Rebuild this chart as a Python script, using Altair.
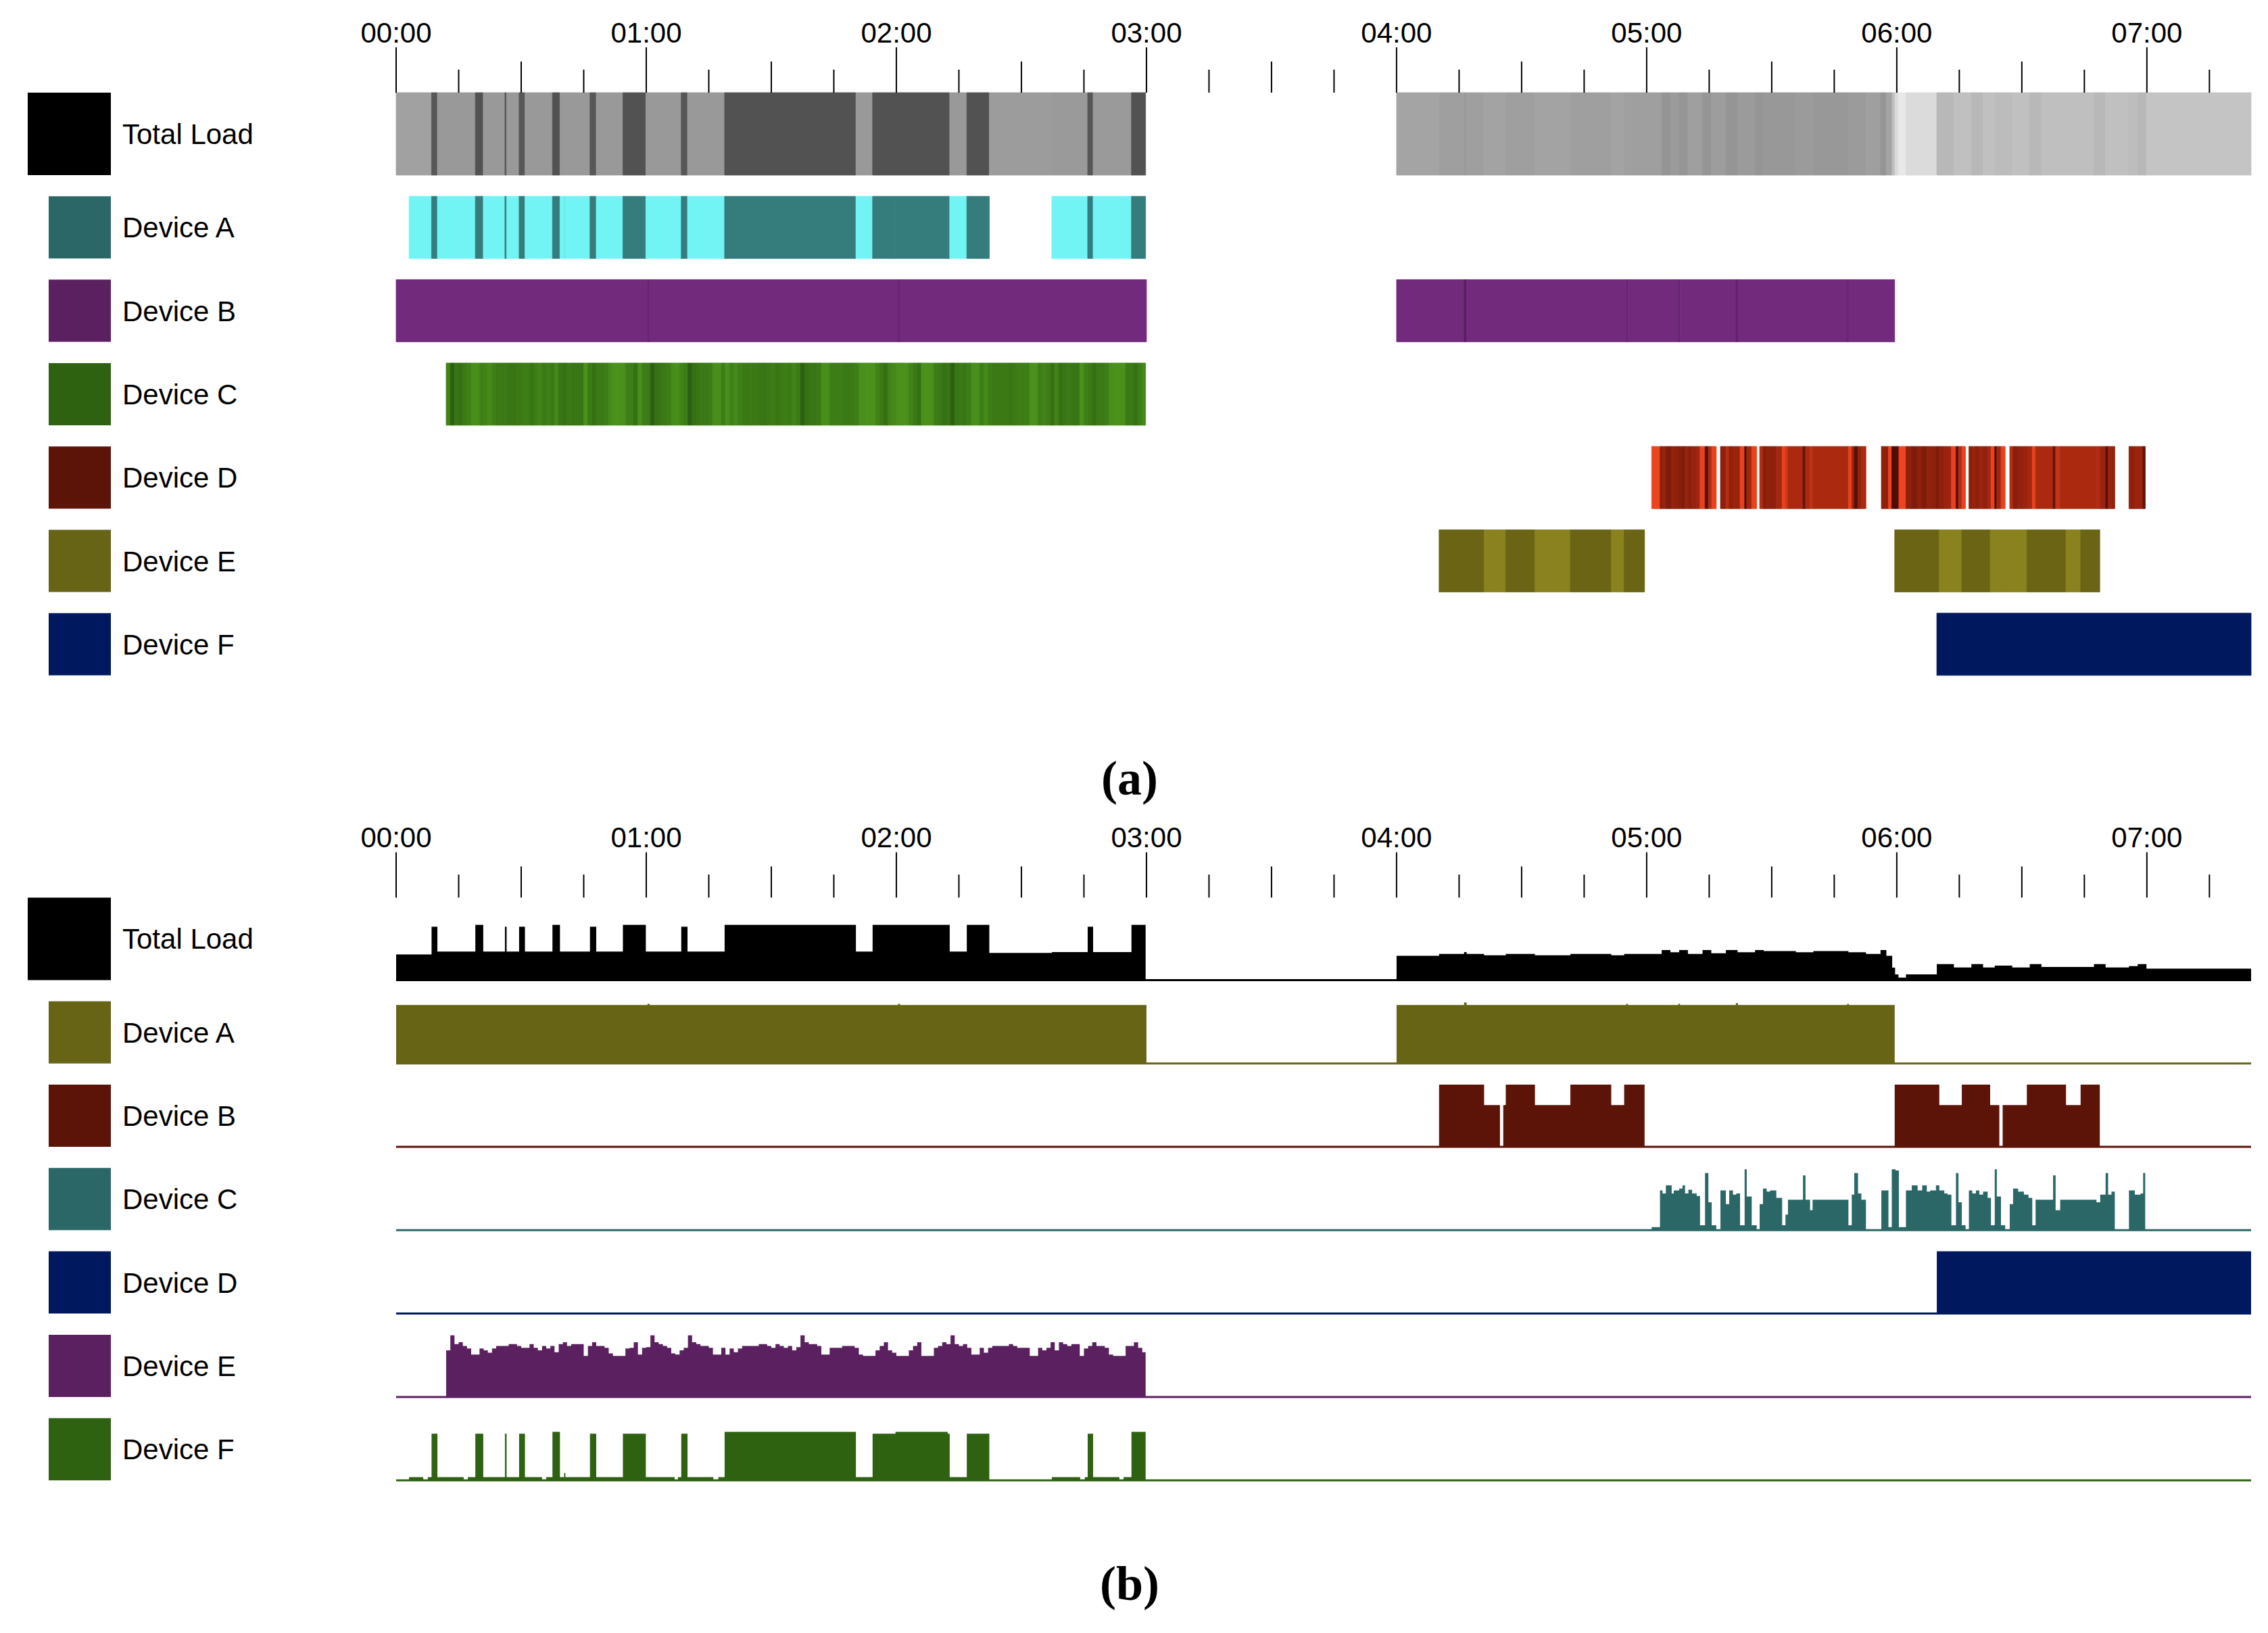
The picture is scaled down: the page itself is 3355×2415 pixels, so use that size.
import altair as alt
import pandas as pd

# ---------------- layout / style constants ----------------
FONT = "Liberation Sans"
X_MAX = 445            # 07:25 expressed in minutes
PLOT_W = 2744
TOTAL_H = 122
ROW_H = 92
ROW_GAP = 31.3
CAPTION_H = 266

# ---------------- axis ticks (minutes) and labels ----------------
HOUR_TICKS = [0, 60, 120, 180, 240, 300, 360, 420]
HOUR_LABELS = ["00:00", "01:00", "02:00", "03:00", "04:00", "05:00", "06:00", "07:00"]
HALF_HOUR_TICKS = [30, 90, 150, 210, 270, 330, 390]
QUARTER_TICKS = [15, 45, 75, 105, 135, 165, 195, 225, 255, 285, 315, 345, 375, 405, 435]

# ---------------- measured series: (start_min, end_min, level) ----------------
TOTAL_SEGMENTS = [
    (0, 8.5, 0.31), (8.5, 9.9, 0.646), (9.9, 19.0, 0.345), (19.0, 20.9, 0.67),
    (20.9, 26.1, 0.345), (26.1, 26.5, 0.646), (26.5, 29.5, 0.345), (29.5, 30.9, 0.646),
    (30.9, 37.5, 0.345), (37.5, 39.3, 0.67), (39.3, 46.5, 0.345), (46.5, 48.0, 0.646),
    (48.0, 54.4, 0.345), (54.4, 59.9, 0.67), (59.9, 68.4, 0.345), (68.4, 69.9, 0.646),
    (69.9, 78.8, 0.345), (78.8, 110.3, 0.67), (110.3, 114.3, 0.345), (114.3, 132.8, 0.67),
    (132.8, 136.9, 0.345), (136.9, 142.3, 0.67), (142.3, 157.3, 0.33), (157.3, 165.9, 0.34),
    (165.9, 167.2, 0.646), (167.2, 176.4, 0.34), (176.4, 179.8, 0.67),
    (240.0, 250.2, 0.294), (250.2, 256.2, 0.316), (256.2, 256.8, 0.34), (256.8, 261.0, 0.316),
    (261.0, 266.2, 0.30), (266.2, 273.2, 0.316), (273.2, 281.7, 0.30), (281.7, 291.5, 0.316),
    (291.5, 294.6, 0.30), (294.6, 303.6, 0.316),
    (303.6, 305.7, 0.363), (305.7, 307.8, 0.338), (307.8, 309.9, 0.363), (309.9, 313.4, 0.317),
    (313.4, 315.5, 0.363), (315.5, 319.0, 0.326), (319.0, 321.8, 0.363), (321.8, 326.0, 0.338),
    (326.0, 328.1, 0.363), (328.1, 335.8, 0.351), (335.8, 340.0, 0.338), (340.0, 348.4, 0.351),
    (348.4, 352.6, 0.338), (352.6, 356.1, 0.317), (356.1, 357.5, 0.363), (357.5, 358.9, 0.295),
    (358.9, 359.6, 0.15),
    (359.6, 360.4, 0.069), (360.4, 362.2, 0.03), (362.2, 369.6, 0.069),
    (369.6, 373.7, 0.194), (373.7, 377.9, 0.153), (377.9, 380.7, 0.194), (380.7, 383.5, 0.153),
    (383.5, 387.7, 0.175), (387.7, 391.9, 0.153), (391.9, 394.7, 0.194), (394.7, 407.3, 0.159),
    (407.3, 410.1, 0.194), (410.1, 415.7, 0.153), (415.7, 417.8, 0.169), (417.8, 419.9, 0.194),
    (419.9, 445.0, 0.138),
]

A_SEGMENTS = [
    (3.1, 6.5, 0.05), (6.5, 7.6, 0.01), (7.6, 8.5, 0.05), (8.5, 9.9, 0.75),
    (9.9, 16.2, 0.05), (16.2, 17.2, 0.01), (17.2, 19.0, 0.05), (19.0, 20.9, 0.75),
    (20.9, 26.1, 0.05), (26.1, 26.5, 0.75), (26.5, 29.5, 0.05), (29.5, 30.9, 0.75),
    (30.9, 35.0, 0.05), (35.0, 36.0, 0.01), (36.0, 37.5, 0.05), (37.5, 39.3, 0.78),
    (39.3, 40.3, 0.05), (40.3, 40.6, 0.12), (40.6, 46.5, 0.05), (46.5, 48.0, 0.75),
    (48.0, 54.4, 0.05), (54.4, 59.9, 0.75), (59.9, 66.8, 0.05), (66.8, 67.6, 0.01),
    (67.6, 68.4, 0.05), (68.4, 69.9, 0.75), (69.9, 76.1, 0.05), (76.1, 77.3, 0.01),
    (77.3, 78.8, 0.05), (78.8, 110.3, 0.78), (110.3, 114.3, 0.05), (114.3, 119.8, 0.75),
    (119.8, 132.3, 0.78), (132.3, 132.8, 0.75), (132.8, 136.9, 0.05), (136.9, 142.3, 0.75),
    (157.3, 164.1, 0.05), (164.1, 165.2, 0.01), (165.2, 165.9, 0.05), (165.9, 167.2, 0.75),
    (167.2, 173.5, 0.05), (173.5, 174.5, 0.01), (174.5, 176.4, 0.05), (176.4, 179.8, 0.78),
]

B_SEGMENTS = [
    (0, 60.3, 0.94), (60.3, 60.8, 0.96), (60.8, 120.4, 0.94), (120.4, 120.9, 0.96),
    (120.9, 180.0, 0.94),
    (240.0, 256.2, 0.94), (256.2, 256.8, 0.98), (256.8, 295.1, 0.94), (295.1, 295.5, 0.96),
    (295.5, 307.6, 0.94), (307.6, 308.0, 0.96), (308.0, 321.4, 0.94), (321.4, 321.9, 0.97),
    (321.9, 348.1, 0.94), (348.1, 348.5, 0.96), (348.5, 359.5, 0.94),
]

# Series C: one level (percent) per minute, from minute 12 to 179.8
C_START = 12
C_END = 179.8
C_LEVELS = [
    75, 99, 85, 88, 82, 78, 68, 68, 78, 75, 71, 78,
    82, 82, 82, 85, 85, 82, 79, 79, 85, 79, 75, 82,
    78, 82, 72, 85, 88, 82, 85, 85, 85, 66, 82, 88,
    82, 82, 79, 70, 66, 66, 66, 78, 79, 88, 68, 79,
    80, 99, 88, 85, 82, 79, 70, 68, 75, 79, 99, 88,
    85, 82, 82, 79, 68, 68, 79, 68, 78, 72, 78, 82,
    82, 82, 82, 85, 85, 82, 79, 85, 82, 79, 82, 75,
    80, 99, 88, 85, 85, 82, 68, 68, 79, 79, 79, 82,
    82, 82, 79, 68, 66, 66, 66, 75, 82, 88, 75, 71,
    66, 66, 66, 75, 82, 88, 66, 66, 66, 79, 82, 88,
    85, 99, 85, 82, 85, 79, 68, 68, 79, 71, 79, 82,
    82, 82, 82, 85, 82, 79, 79, 79, 66, 66, 79, 75,
    79, 88, 75, 88, 85, 82, 85, 85, 66, 78, 82, 88,
    82, 82, 79, 68, 66, 66, 66, 82, 82, 88, 79, 72,
]

D_SEGMENTS = [
    (301.2, 303.2, 0.05), (303.2, 303.8, 0.64), (303.8, 304.6, 0.59), (304.6, 306.0, 0.72),
    (306.0, 306.5, 0.59), (306.5, 307.8, 0.64), (307.8, 308.6, 0.67), (308.6, 309.2, 0.72),
    (309.2, 310.0, 0.59), (310.0, 310.9, 0.65), (310.9, 312.0, 0.59), (312.0, 312.8, 0.55),
    (312.8, 314.0, 0.08), (314.0, 314.8, 0.92), (314.8, 315.6, 0.45), (315.6, 316.7, 0.08),
    (317.7, 319.0, 0.64), (319.0, 319.8, 0.42), (319.8, 320.7, 0.64), (320.7, 321.5, 0.57),
    (321.5, 322.4, 0.59), (322.4, 323.5, 0.08), (323.5, 324.0, 0.98), (324.0, 325.2, 0.54),
    (325.2, 326.4, 0.08),
    (327.1, 327.9, 0.42), (327.9, 328.8, 0.67), (328.8, 329.6, 0.62), (329.6, 331.1, 0.64),
    (331.1, 332.5, 0.52), (332.5, 333.3, 0.08), (333.3, 333.9, 0.25), (333.9, 337.5, 0.49),
    (337.5, 338.1, 0.88), (338.1, 339.2, 0.49), (339.2, 339.8, 0.32), (339.8, 348.4, 0.49),
    (348.4, 349.2, 0.08), (349.2, 349.8, 0.57), (349.8, 350.7, 0.92), (350.7, 351.5, 0.59),
    (351.5, 352.6, 0.49),
    (356.3, 358.0, 0.64), (358.0, 358.8, 0.05), (358.8, 359.7, 0.98), (359.7, 360.5, 0.96),
    (360.5, 362.2, 0.05), (362.2, 363.6, 0.64), (363.6, 365.0, 0.72), (365.0, 366.1, 0.64),
    (366.1, 367.2, 0.72), (367.2, 368.0, 0.62), (368.0, 369.4, 0.64), (369.4, 370.2, 0.72),
    (370.2, 371.4, 0.64), (371.4, 372.2, 0.59), (372.2, 373.1, 0.57), (373.1, 374.2, 0.08),
    (374.2, 374.8, 0.92), (374.8, 375.6, 0.45), (375.6, 376.5, 0.08),
    (377.3, 378.1, 0.64), (378.1, 379.0, 0.59), (379.0, 379.8, 0.64), (379.8, 380.7, 0.57),
    (380.7, 381.8, 0.62), (381.8, 382.6, 0.52), (382.6, 383.5, 0.08), (383.5, 384.0, 0.98),
    (384.0, 385.0, 0.54), (385.0, 386.0, 0.08),
    (387.1, 387.9, 0.42), (387.9, 389.1, 0.67), (389.1, 390.5, 0.62), (390.5, 391.6, 0.57),
    (391.6, 392.5, 0.52), (392.5, 393.3, 0.08), (393.3, 397.5, 0.49), (397.5, 398.1, 0.88),
    (398.1, 399.2, 0.32), (399.2, 407.9, 0.49), (407.9, 408.8, 0.45), (408.8, 410.1, 0.57),
    (410.1, 410.7, 0.92), (410.7, 411.5, 0.57), (411.5, 412.3, 0.62),
    (415.7, 417.1, 0.64), (417.1, 418.5, 0.57), (418.5, 419.1, 0.59), (419.1, 419.6, 0.92),
]

E_SEGMENTS = [
    (250.2, 261.0, 1.0), (261.0, 264.8, 0.67), (264.8, 265.6, 0.01), (265.6, 266.2, 0.67),
    (266.2, 273.2, 1.0), (273.2, 281.7, 0.67), (281.7, 291.5, 1.0), (291.5, 294.6, 0.67),
    (294.6, 299.5, 1.0),
    (359.5, 370.2, 1.0), (370.2, 375.6, 0.67), (375.6, 382.4, 1.0), (382.4, 384.6, 0.67),
    (384.6, 385.4, 0.01), (385.4, 391.2, 0.67), (391.2, 400.6, 1.0), (400.6, 404.1, 0.67),
    (404.1, 408.7, 1.0),
]

F_SEGMENTS = [(369.6, 445.0, 1.0)]

# ---------------- rows of the two panels ----------------
ROW_LABELS = ["Total Load", "Device A", "Device B", "Device C", "Device D", "Device E", "Device F"]
PANEL_A_SERIES = ["TOTAL", "A", "B", "C", "D", "E", "F"]
PANEL_A_COLORS = ["#000000", "#2b6767", "#5b2060", "#2e6211", "#5c1409", "#686416", "#00195e"]
PANEL_B_SERIES = ["TOTAL", "B", "E", "D", "F", "C", "A"]
PANEL_B_COLORS = ["#000000", "#686416", "#5c1409", "#2b6767", "#00195e", "#5b2060", "#2e6211"]
CAPTIONS = ["(a)", "(b)"]

# colour ramps of the barcode view (a): level stops -> colours
SHADE_STOPS = {
    "TOTAL": [0.03, 0.14, 0.3, 0.67],
    "A": [0.05, 0.75],
    "B": [0.94, 0.98],
    "C": [0.65, 0.99],
    "D": [0.05, 0.5, 0.98],
    "E": [0.67, 1.0],
    "F": [0.0, 1.0],
}
SHADE_COLORS = {
    "TOTAL": ["#e8e8e8", "#c3c3c3", "#a3a3a3", "#525252"],
    "A": ["#72f4f4", "#357c7c"],
    "B": ["#722b7c", "#5a1d62"],
    "C": ["#4b921b", "#2a600f"],
    "D": ["#ec4420", "#a8280f", "#4e0c06"],
    "E": ["#8a821e", "#6a6414"],
    "F": ["#00195e", "#00195e"],
}


def c_segments():
    segs = []
    for i, v in enumerate(C_LEVELS):
        s = C_START + i
        segs.append((s, min(s + 1, C_END), v / 100.0))
    return segs


SERIES = {
    "TOTAL": TOTAL_SEGMENTS,
    "A": A_SEGMENTS,
    "B": B_SEGMENTS,
    "C": c_segments(),
    "D": D_SEGMENTS,
    "E": E_SEGMENTS,
    "F": F_SEGMENTS,
}


def seg_frame(key):
    return pd.DataFrame(SERIES[key], columns=["start", "end", "lvl"])


def step_frame(key):
    segs = SERIES[key]
    pts = []
    for i, (s, e, v) in enumerate(segs):
        pts.append((s, v))
        nxt = segs[i + 1][0] if i + 1 < len(segs) else None
        if nxt is None or abs(nxt - e) > 1e-6:
            pts.append((e, 0.0))
    return pd.DataFrame(pts, columns=["t", "lvl"])


def xscale():
    return alt.Scale(domain=[0, X_MAX], nice=False, zero=False)


def tick_layers():
    hour_df = pd.DataFrame({"t": HOUR_TICKS, "txt": HOUR_LABELS})
    hours = alt.Chart(hour_df).mark_rule(color="black", strokeWidth=2).encode(
        x=alt.X("t:Q", axis=None), y=alt.value(-67), y2=alt.value(0)
    )
    hour_text = alt.Chart(hour_df).mark_text(
        align="center", baseline="alphabetic", font=FONT, fontSize=42, color="black"
    ).encode(x=alt.X("t:Q", axis=None), y=alt.value(-74), text="txt:N")
    halves = alt.Chart(pd.DataFrame({"t": HALF_HOUR_TICKS})).mark_rule(
        color="black", strokeWidth=2
    ).encode(x=alt.X("t:Q", axis=None), y=alt.value(-46), y2=alt.value(0))
    quarters = alt.Chart(pd.DataFrame({"t": QUARTER_TICKS})).mark_rule(
        color="black", strokeWidth=2
    ).encode(x=alt.X("t:Q", axis=None), y=alt.value(-34), y2=alt.value(0))
    return [hours, hour_text, halves, quarters]


def row_chart(label, key, color, mode, is_total):
    h = TOTAL_H if is_total else ROW_H
    layers = []
    if mode == "a":
        cs = alt.Scale(domain=SHADE_STOPS[key], range=SHADE_COLORS[key],
                       clamp=True, interpolate="rgb")
        layers.append(
            alt.Chart(seg_frame(key)).mark_rect(strokeWidth=0.8).encode(
                x=alt.X("start:Q", scale=xscale(), axis=None),
                x2="end:Q",
                y=alt.value(0), y2=alt.value(h),
                color=alt.Color("lvl:Q", scale=cs, legend=None),
                stroke=alt.Stroke("lvl:Q", scale=cs, legend=None),
            )
        )
    else:
        ys = alt.Scale(domain=[0, 1], nice=False, zero=True)
        base = pd.DataFrame({"t0": [0], "t1": [X_MAX], "zero": [0.0]})
        layers.append(
            alt.Chart(base).mark_rule(color=color, strokeWidth=3).encode(
                x=alt.X("t0:Q", scale=xscale(), axis=None), x2="t1:Q",
                y=alt.Y("zero:Q", scale=ys, axis=None),
            )
        )
        layers.append(
            alt.Chart(step_frame(key)).mark_area(interpolate="step-after", color=color).encode(
                x=alt.X("t:Q", axis=None),
                y=alt.Y("lvl:Q", axis=None),
            )
        )
    lab = pd.DataFrame({"label": [label]})
    layers.append(
        alt.Chart(lab).mark_rect(color=color).encode(
            x=alt.value(-545 if is_total else -514), x2=alt.value(-422),
            y=alt.value(0), y2=alt.value(h),
        )
    )
    layers.append(
        alt.Chart(lab).mark_text(
            align="left", baseline="alphabetic", font=FONT, fontSize=42, color="black"
        ).encode(x=alt.value(-405), y=alt.value(h / 2 + 15), text="label:N")
    )
    if is_total:
        layers.extend(tick_layers())
    return alt.layer(*layers).properties(width=PLOT_W, height=h)


def caption_chart(text, h):
    return alt.Chart(pd.DataFrame({"label": [text]})).mark_text(
        align="center", baseline="middle", font="Liberation Serif",
        fontSize=72, fontWeight="bold", color="black",
    ).encode(
        x=alt.value(1085), y=alt.value(123), text="label:N"
    ).properties(width=PLOT_W, height=h)


def panel_rows(series, colors, mode):
    return [
        row_chart(ROW_LABELS[i], series[i], colors[i], mode, i == 0)
        for i in range(len(ROW_LABELS))
    ]


charts = (
    panel_rows(PANEL_A_SERIES, PANEL_A_COLORS, "a")
    + [caption_chart(CAPTIONS[0], CAPTION_H)]
    + panel_rows(PANEL_B_SERIES, PANEL_B_COLORS, "b")
    + [caption_chart(CAPTIONS[1], 170)]
)

chart = (
    alt.vconcat(*charts, spacing=ROW_GAP, bounds="flush")
    .resolve_scale(color="independent", stroke="independent")
    .properties(padding={"left": 33, "top": 21, "right": 5, "bottom": 5}, background="white")
    .configure(font=FONT)
    .configure_view(stroke="transparent", strokeWidth=0)
)

chart.save("out.html", embed_options={"renderer": "svg", "actions": False})
